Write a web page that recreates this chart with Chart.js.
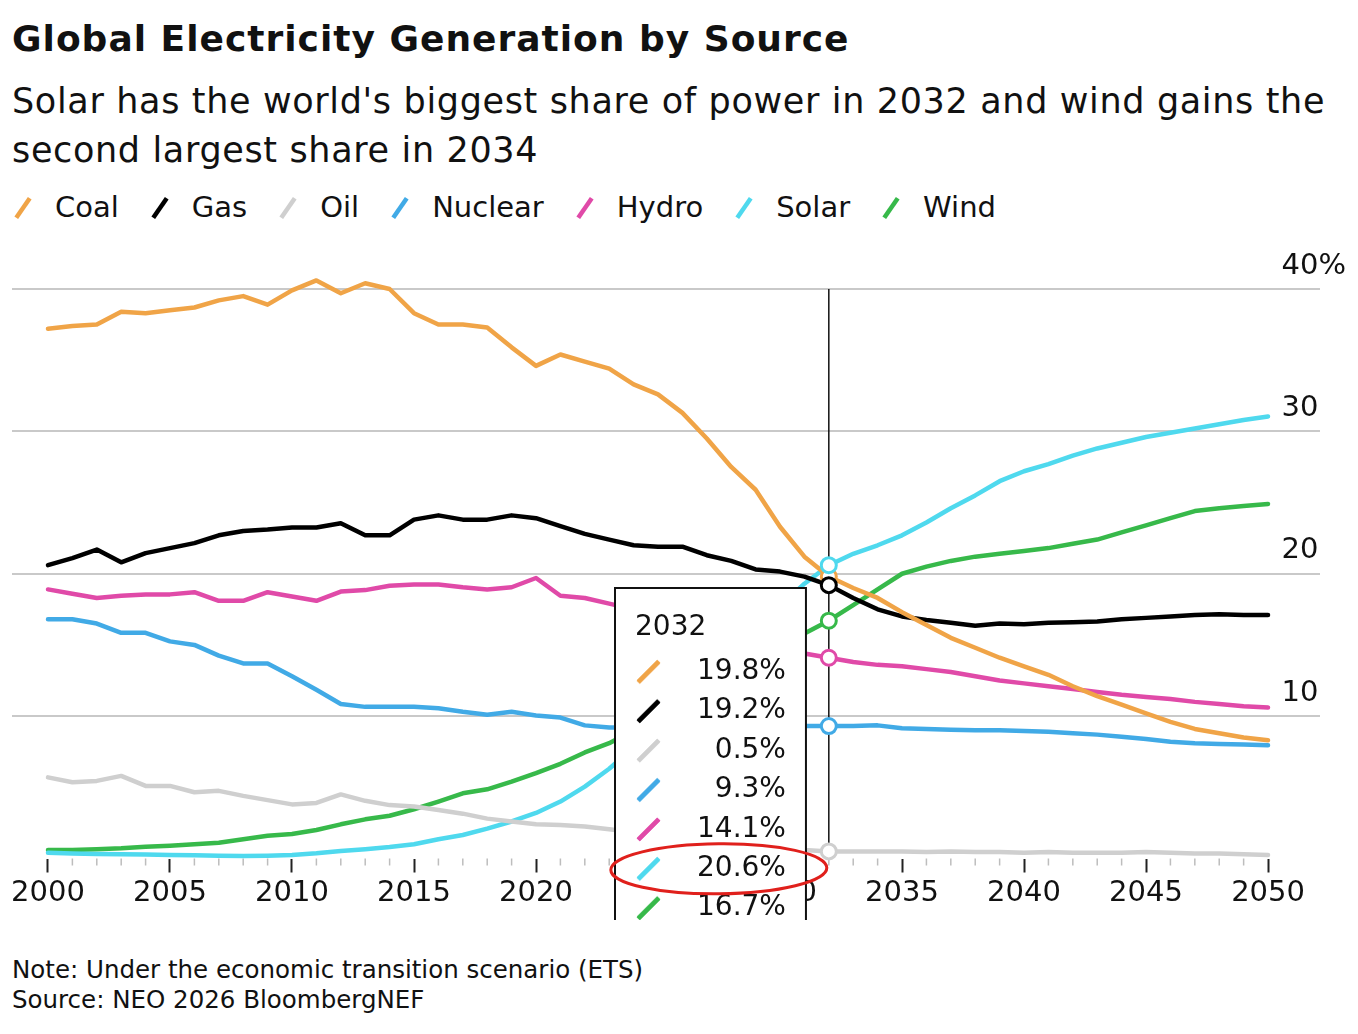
<!DOCTYPE html>
<html>
<head>
<meta charset="utf-8">
<script src="https://cdn.jsdelivr.net/npm/chart.js@4.4.1/dist/chart.umd.min.js"></script>
<style>
  body { margin: 0; background: #fff; font-family: "DejaVu Sans", sans-serif; color: #111;
         width: 1358px; height: 1034px; overflow: hidden; position: relative; }
  #title { position: absolute; left: 12px; top: 21px; font-size: 36px; line-height: 36px;
           font-weight: bold; letter-spacing: 1px; white-space: nowrap; }
  #subtitle { position: absolute; left: 12px; top: 77px; font-size: 35px; line-height: 49px;
              letter-spacing: 0.65px; white-space: nowrap; }
  #legend { position: absolute; left: 13px; top: 193px; height: 29px; display: flex;
            align-items: center; font-size: 29px; line-height: 29px; white-space: nowrap; }
  .item { display: flex; align-items: center; margin-right: 31px; }
  .item canvas { margin-right: 22px; }
  #wrap { position: absolute; left: 0; top: 240px; width: 1358px; height: 680px; overflow: hidden; }
  #notes { position: absolute; left: 12px; top: 955px; font-size: 24.5px; line-height: 30px; white-space: nowrap; }
</style>
</head>
<body>
<div id="title">Global Electricity Generation by Source</div>
<div id="subtitle">Solar has the world's biggest share of power in 2032 and wind gains the<br>second largest share in 2034</div>
<div id="legend"></div>
<div id="wrap"><canvas id="chart" width="1358" height="720"></canvas></div>
<div id="notes">Note: Under the economic transition scenario (ETS)<br>Source: NEO 2026 BloombergNEF</div>

<script>
// Les années (axe x) et les séries
const years = [2000, 2001, 2002, 2003, 2004, 2005, 2006, 2007, 2008, 2009,
  2010, 2011, 2012, 2013, 2014, 2015, 2016, 2017, 2018, 2019,
  2020, 2021, 2022, 2023, 2024, 2025, 2026, 2027, 2028, 2029,
  2030, 2031, 2032, 2033, 2034, 2035, 2036, 2037, 2038, 2039,
  2040, 2041, 2042, 2043, 2044, 2045, 2046, 2047, 2048, 2049, 2050];
const tickYears = [2000, 2005, 2010, 2015, 2020, 2025, 2030, 2035, 2040, 2045, 2050];
const yTicks = [10, 20, 30, 40];
const hoverYear = 2032;

const names = ['Coal', 'Gas', 'Oil', 'Nuclear', 'Hydro', 'Solar', 'Wind'];
const colors = ['#f0a447', '#000000', '#cfcfcf', '#41aae6', '#e04aa8', '#4fd9ee', '#37b94a'];

const coal = [37.2, 37.4, 37.5, 38.4, 38.3, 38.5, 38.7, 39.2, 39.5, 38.9,
  39.9, 40.6, 39.7, 40.4, 40.0, 38.3, 37.5, 37.5, 37.3, 35.9,
  34.6, 35.4, 34.9, 34.4, 33.3, 32.6, 31.3, 29.5, 27.5, 25.9,
  23.3, 21.2, 19.8, 19.0, 18.3, 17.3, 16.4, 15.5, 14.8, 14.1,
  13.5, 12.9, 12.1, 11.4, 10.8, 10.2, 9.6, 9.1, 8.8, 8.5, 8.3];
const gas = [20.6, 21.1, 21.7, 20.8, 21.45, 21.8, 22.15, 22.7, 23.0, 23.1,
  23.25, 23.25, 23.55, 22.7, 22.7, 23.8, 24.1, 23.8, 23.8, 24.1,
  23.9, 23.35, 22.8, 22.4, 22.0, 21.9, 21.9, 21.3, 20.9, 20.3,
  20.15, 19.8, 19.2, 18.3, 17.5, 17.0, 16.75, 16.55, 16.35, 16.5,
  16.45, 16.55, 16.6, 16.65, 16.8, 16.9, 17.0, 17.1, 17.15, 17.1, 17.1];
const oil = [5.7, 5.35, 5.45, 5.8, 5.1, 5.1, 4.65, 4.75, 4.4, 4.1,
  3.8, 3.9, 4.5, 4.05, 3.75, 3.65, 3.4, 3.15, 2.8, 2.6,
  2.4, 2.35, 2.25, 2.05, 1.85, 1.65, 1.45, 1.25, 1.05, 0.9,
  0.75, 0.6, 0.5, 0.5, 0.5, 0.5, 0.45, 0.5, 0.45, 0.45,
  0.4, 0.45, 0.4, 0.4, 0.4, 0.45, 0.4, 0.35, 0.35, 0.3, 0.25];
const nuclear = [16.8, 16.8, 16.5, 15.85, 15.85, 15.25, 15.0, 14.25, 13.7, 13.7,
  12.8, 11.85, 10.85, 10.65, 10.65, 10.65, 10.55, 10.3, 10.1, 10.3,
  10.05, 9.9, 9.35, 9.2, 9.2, 9.2, 9.25, 9.3, 9.3, 9.3,
  9.3, 9.3, 9.3, 9.3, 9.35, 9.15, 9.1, 9.05, 9.0, 9.0,
  8.95, 8.9, 8.8, 8.7, 8.55, 8.4, 8.2, 8.1, 8.05, 8.0, 7.95];
const hydro = [18.9, 18.6, 18.3, 18.45, 18.55, 18.55, 18.7, 18.1, 18.1, 18.7,
  18.4, 18.1, 18.75, 18.85, 19.15, 19.25, 19.25, 19.05, 18.9, 19.05,
  19.7, 18.45, 18.3, 17.9, 17.5, 17.1, 16.6, 16.1, 15.6, 15.2,
  14.8, 14.4, 14.1, 13.8, 13.6, 13.5, 13.3, 13.1, 12.8, 12.5,
  12.3, 12.1, 11.9, 11.7, 11.5, 11.35, 11.2, 11.0, 10.85, 10.7, 10.6];
const solar = [0.4, 0.35, 0.32, 0.3, 0.28, 0.25, 0.22, 0.2, 0.18, 0.2,
  0.25, 0.37, 0.53, 0.65, 0.8, 1.0, 1.35, 1.65, 2.1, 2.6,
  3.2, 4.0, 5.05, 6.3, 7.8, 9.4, 11.0, 12.7, 14.4, 16.0,
  17.7, 19.3, 20.6, 21.4, 22.0, 22.7, 23.6, 24.6, 25.5, 26.5,
  27.2, 27.7, 28.3, 28.8, 29.2, 29.6, 29.9, 30.2, 30.5, 30.8, 31.05];
const wind = [0.6, 0.6, 0.65, 0.72, 0.83, 0.9, 1.0, 1.11, 1.35, 1.6,
  1.72, 2.0, 2.4, 2.75, 3.0, 3.46, 4.0, 4.58, 4.86, 5.4,
  6.0, 6.65, 7.45, 8.1, 9.0, 9.9, 10.9, 11.9, 12.9, 13.9,
  14.9, 15.8, 16.7, 17.8, 18.9, 20.0, 20.5, 20.9, 21.2, 21.4,
  21.6, 21.8, 22.1, 22.4, 22.9, 23.4, 23.9, 24.4, 24.6, 24.75, 24.9];

const series = [coal, gas, oil, nuclear, hydro, solar, wind];

Chart.defaults.font.family = '"DejaVu Sans", sans-serif';
Chart.defaults.color = '#111';

// petit trait oblique utilisé dans la légende et dans l'infobulle
function makeSlash(color, w, h, lw) {
  const c = document.createElement('canvas');
  c.width = w;
  c.height = h;
  const g = c.getContext('2d');
  g.strokeStyle = color;
  g.lineWidth = lw;
  g.beginPath();
  g.moveTo(lw / 2 + 1, h - lw / 2 - 1);
  g.lineTo(w - lw / 2 - 1, lw / 2 + 1);
  g.stroke();
  return c;
}

// légende en HTML
const legendBox = document.getElementById('legend');
names.forEach((n, i) => {
  const item = document.createElement('div');
  item.className = 'item';
  item.appendChild(makeSlash(colors[i], 20, 26, 4.5));
  const s = document.createElement('span');
  s.textContent = n;
  item.appendChild(s);
  legendBox.appendChild(item);
});

const tipIcons = colors.map(c => makeSlash(c, 27, 27, 4.5));
const hoverIndex = years.indexOf(hoverYear);
const tipPadTop = 23;

// l'infobulle reste fixe, comme sur la capture
Chart.Tooltip.positioners.fixedBox = function () {
  return { x: 615, y: 348, xAlign: 'left', yAlign: 'top' };
};

const hoverPlugin = {
  id: 'hover',
  beforeDatasetsDraw(chart) {
    const ctx = chart.ctx;
    const xs = chart.scales.x;
    const ys = chart.scales.y;
    const bottom = chart.chartArea.bottom;
    ctx.save();
    // petites graduations annuelles
    ctx.strokeStyle = '#bdbdbd';
    ctx.lineWidth = 1.5;
    years.forEach(y => {
      if (tickYears.includes(y)) return;
      const px = xs.getPixelForValue(y);
      ctx.beginPath();
      ctx.moveTo(px, bottom);
      ctx.lineTo(px, bottom + 7);
      ctx.stroke();
    });
    // ligne verticale de l'année survolée
    const hx = xs.getPixelForValue(hoverYear);
    ctx.strokeStyle = '#111';
    ctx.lineWidth = 1.5;
    ctx.beginPath();
    ctx.moveTo(hx, ys.getPixelForValue(40));
    ctx.lineTo(hx, ys.getPixelForValue(0));
    ctx.stroke();
    ctx.restore();
  },
  afterDatasetsDraw(chart) {
    const ctx = chart.ctx;
    ctx.save();
    series.forEach((_, i) => {
      const pt = chart.getDatasetMeta(i).data[hoverIndex];
      ctx.beginPath();
      ctx.arc(pt.x, pt.y, 7.5, 0, Math.PI * 2);
      ctx.fillStyle = '#fff';
      ctx.fill();
      ctx.lineWidth = 3;
      ctx.strokeStyle = colors[i];
      ctx.stroke();
    });
    ctx.restore();
  },
  afterDraw(chart) {
    // cercle rouge autour de la ligne Solar
    const ctx = chart.ctx;
    const tt = chart.tooltip;
    const row = names.indexOf('Solar');
    const cy = tt.y + tipPadTop + 33.6 + 10.4 + row * (33.6 + 5.8) + 16.8;
    const cx = chart.scales.x.getPixelForValue(hoverYear) - 110;
    ctx.save();
    ctx.strokeStyle = '#e0201c';
    ctx.lineWidth = 3;
    ctx.beginPath();
    ctx.ellipse(cx, cy, 108, 25, -0.01, 0, Math.PI * 2);
    ctx.stroke();
    ctx.restore();
  }
};

const chart = new Chart(document.getElementById('chart'), {
  type: 'line',
  data: {
    labels: years,
    datasets: names.map((n, i) => ({
      label: n,
      data: series[i],
      borderColor: colors[i],
      backgroundColor: colors[i],
      borderWidth: 4.5,
      pointRadius: 0,
      pointHoverRadius: 0,
      tension: 0,
      borderJoinStyle: 'round',
      borderCapStyle: 'round',
      clip: false
    }))
  },
  options: {
    responsive: false,
    animation: false,
    events: [],
    layout: { padding: { top: 20.5, left: 12, right: 0, bottom: 44.7 } },
    scales: {
      x: {
        type: 'linear',
        min: 1998.525,
        max: 2052.13,
        afterBuildTicks: s => { s.ticks = tickYears.map(v => ({ value: v })); },
        afterFit: s => { s.height = 56.8; },
        ticks: { font: { size: 29 }, color: '#111', padding: 4, maxRotation: 0, autoSkip: false,
                 callback: v => String(v) },
        grid: { drawOnChartArea: false, tickLength: 14, tickWidth: 2, tickColor: '#222' },
        border: { display: false }
      },
      y: {
        position: 'right',
        min: 0,
        max: 42,
        afterBuildTicks: s => { s.ticks = yTicks.map(v => ({ value: v })); },
        afterFit: s => { s.width = 38; s.paddingTop = 0; s.paddingBottom = 0; },
        ticks: { font: { size: 29 }, color: '#111', mirror: true, padding: 26, crossAlign: 'far',
                 labelOffset: -23, callback: v => (v === 40 ? '40%' : String(v)) },
        grid: { color: '#c9c9c9', lineWidth: 2, drawTicks: false },
        border: { display: false }
      }
    },
    plugins: {
      legend: { display: false },
      tooltip: {
        enabled: true,
        position: 'fixedBox',
        xAlign: 'left',
        yAlign: 'top',
        backgroundColor: '#fff',
        borderColor: '#111',
        borderWidth: 2,
        cornerRadius: 0,
        caretSize: 0,
        caretPadding: 0,
        padding: { top: tipPadTop, right: 20, bottom: 20, left: 20 },
        titleFont: { size: 28, weight: 'normal' },
        titleColor: '#111',
        titleMarginBottom: 10.4,
        titleSpacing: 0,
        bodyFont: { size: 28 },
        bodyColor: '#111',
        bodySpacing: 5.8,
        bodyAlign: 'right',
        displayColors: true,
        usePointStyle: true,
        boxWidth: 27,
        boxHeight: 27,
        boxPadding: 33,
        callbacks: {
          title: () => String(hoverYear),
          label: item => item.parsed.y.toFixed(1) + '%',
          labelPointStyle: item => ({ pointStyle: tipIcons[item.datasetIndex], rotation: 0 }),
          labelColor: item => ({ borderColor: colors[item.datasetIndex], backgroundColor: colors[item.datasetIndex] })
        }
      }
    }
  },
  plugins: [hoverPlugin]
});

chart.tooltip.setActiveElements(series.map((_, i) => ({ datasetIndex: i, index: hoverIndex })), { x: 615, y: 348 });
chart.draw();
</script>
</body>
</html>
